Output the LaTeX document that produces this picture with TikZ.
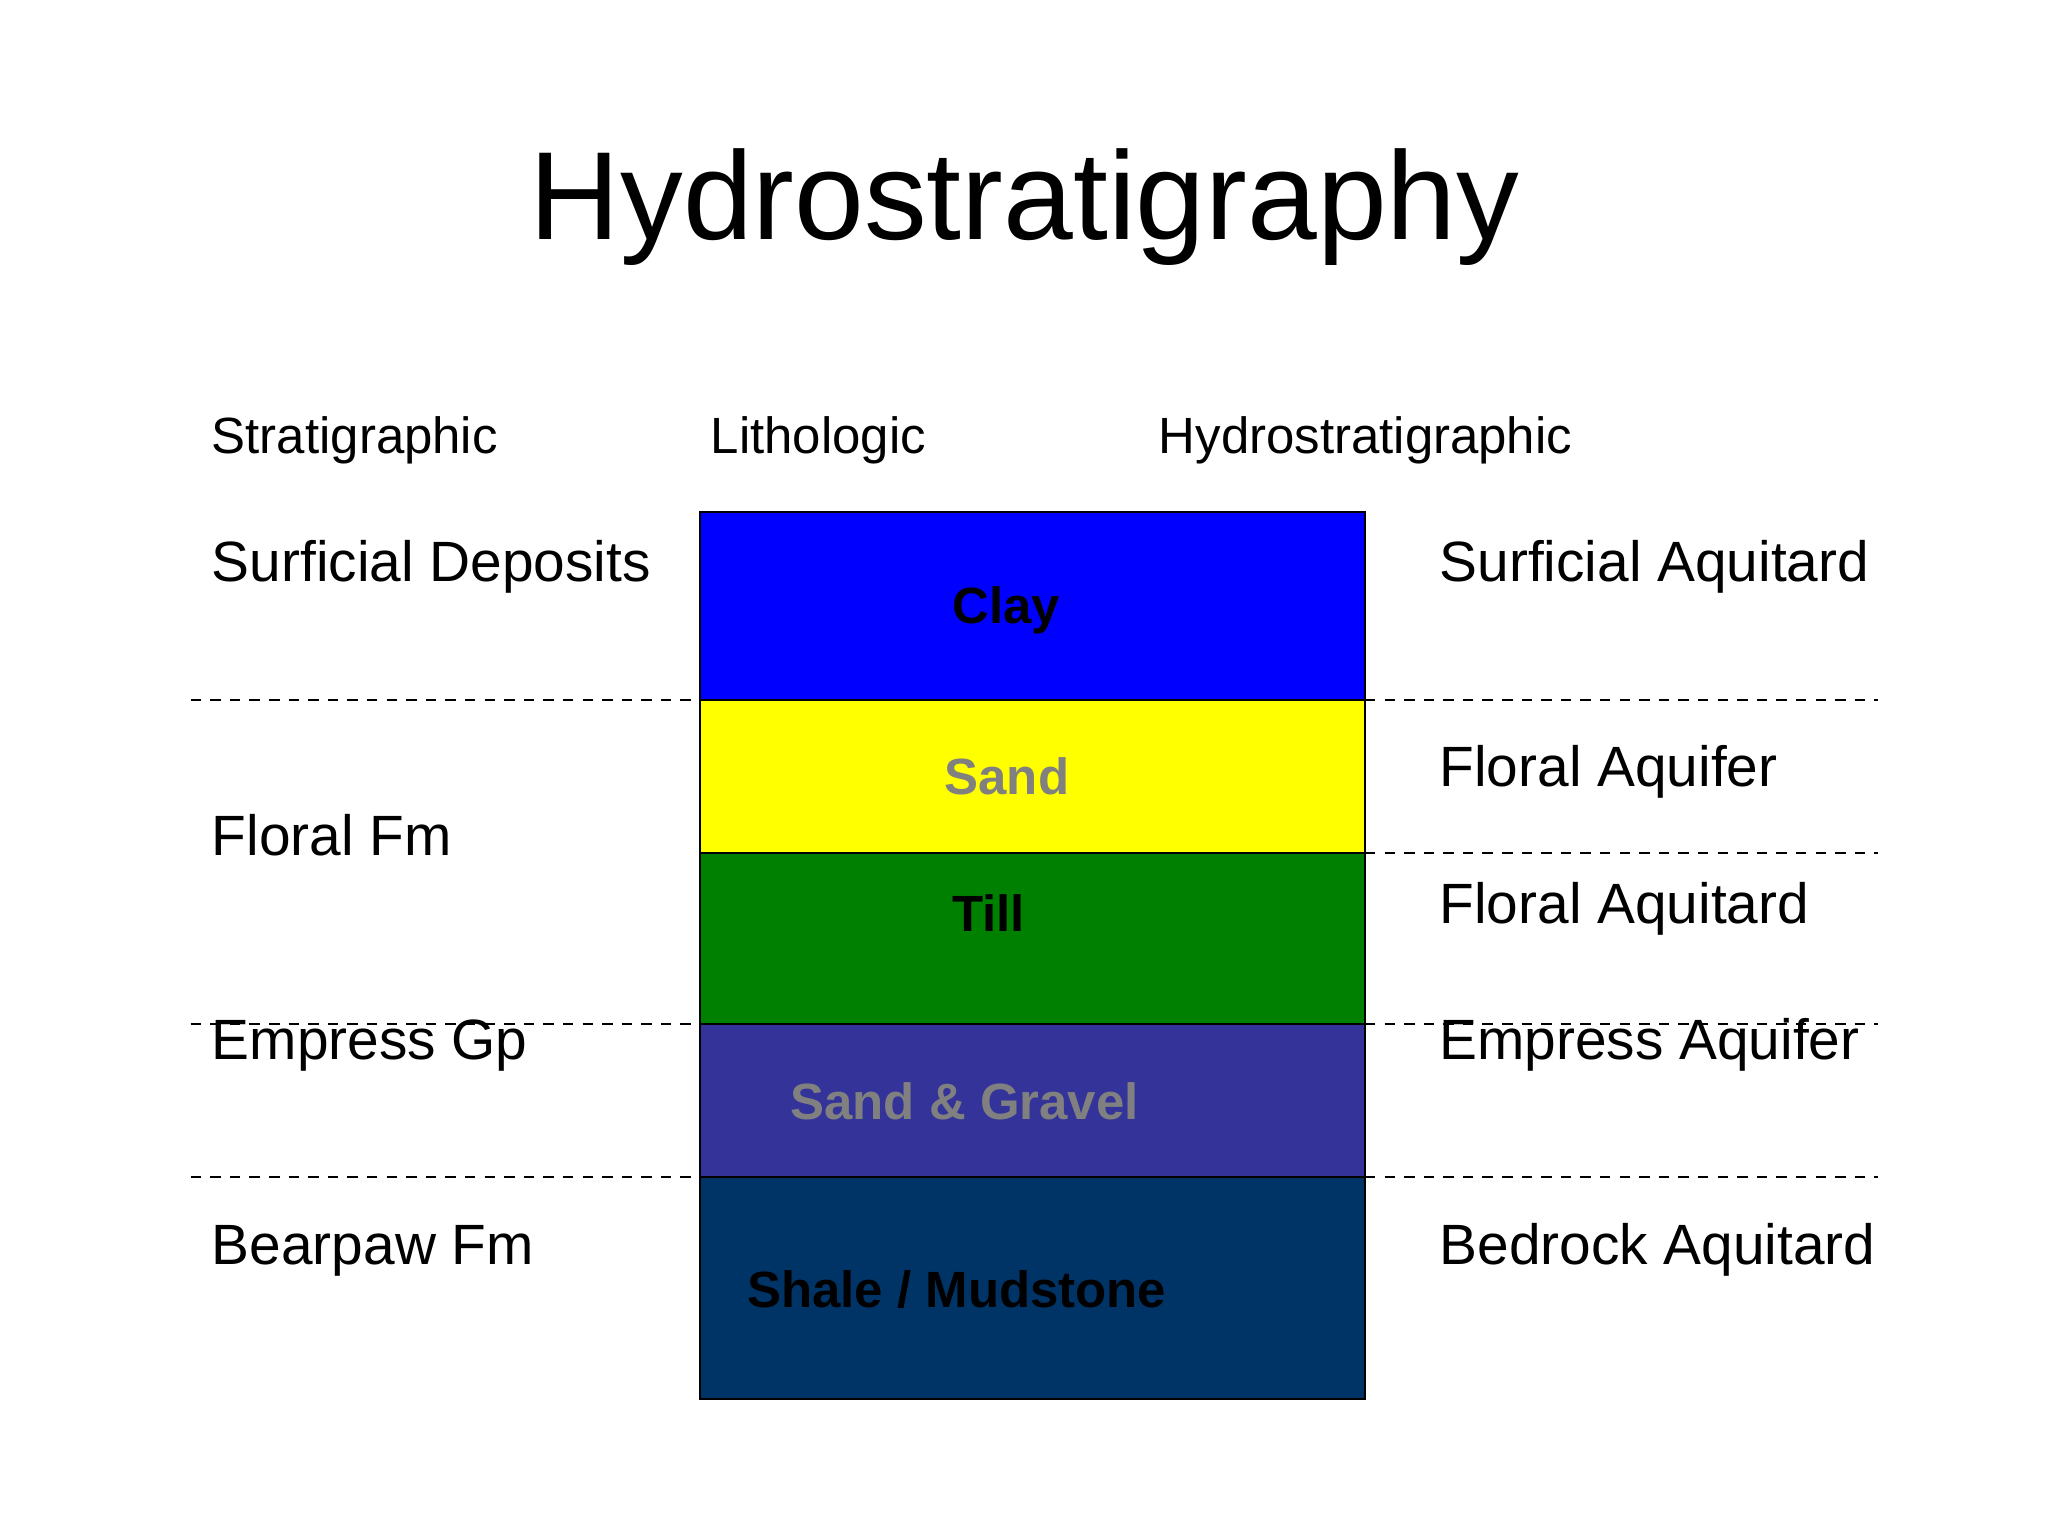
\documentclass[tikz,border=0pt]{standalone}
\usepackage{fontspec}
\setmainfont{Liberation Sans}
\definecolor{clayblue}{HTML}{0000FF}
\definecolor{sandyellow}{HTML}{FFFF00}
\definecolor{tillgreen}{HTML}{008000}
\definecolor{gravelblue}{HTML}{333399}
\definecolor{shaleblue}{HTML}{003366}
\definecolor{lightgray}{HTML}{808080}
\tikzset{
  layer/.style={draw=black, line width=1.8pt, minimum width=509pt, inner sep=0pt, outer sep=0pt, anchor=north west},
  dashline/.style={draw=black, line width=1.7pt, dash pattern=on 8pt off 7pt},
  titletext/.style={inner sep=0pt, anchor=base, font=\fontsize{96}{100}\selectfont},
  headtext/.style={inner sep=0pt, anchor=base west, font=\fontsize{39}{42}\selectfont},
  sidetext/.style={inner sep=0pt, anchor=base west, font=\fontsize{43.5}{46}\selectfont},
  innertext/.style={inner sep=0pt, anchor=base west, font=\fontsize{39}{42}\selectfont\bfseries},
}
\begin{document}
\begin{tikzpicture}[x=1pt,y=-1pt]
\useasboundingbox (0,0) rectangle (1568,1176);
% title
\node[titletext] (title) at (784.5,183) {Hydrostratigraphy};
% headers
\node[headtext] (hstrat) at (162,347) {Stratigraphic};
\node[headtext] (hlith) at (544,347) {Lithologic};
\node[headtext] (hhydro) at (887,347) {Hydrostratigraphic};
% layers
\node[layer, fill=clayblue, minimum height=144pt] (clay) at (536,392) {};
\node[layer, fill=sandyellow, minimum height=117pt] (sand) at (536,536) {};
\node[layer, fill=tillgreen, minimum height=131pt] (till) at (536,653) {};
\node[layer, fill=gravelblue, minimum height=117pt] (gravel) at (536,784) {};
\node[layer, fill=shaleblue, minimum height=170pt] (shale) at (536,901) {};
% layer labels
\node[innertext, text=black] (tclay) at (729,477) {Clay};
\node[innertext, text=lightgray] (tsand) at (723,608) {Sand};
\node[innertext, text=black] (ttill) at (729,713) {Till};
\node[innertext, text=lightgray] (tgravel) at (605,857) {Sand \& Gravel};
\node[innertext, text=black] (tshale) at (572,1001) {Shale / Mudstone};
% dashed divisions
\coordinate (l1) at (146,536);
\coordinate (l3) at (146,784);
\coordinate (l4) at (146,901);
\coordinate (r1) at (1438,536);
\coordinate (r2) at (1438,653);
\coordinate (r3) at (1438,784);
\coordinate (r4) at (1438,901);
\draw[dashline] (l1) -- (clay.south west);
\draw[dashline] (l3) -- (till.south west);
\draw[dashline] (l4) -- (gravel.south west);
\draw[dashline] (clay.south east) -- (r1);
\draw[dashline] (sand.south east) -- (r2);
\draw[dashline] (till.south east) -- (r3);
\draw[dashline] (gravel.south east) -- (r4);
% left labels
\node[sidetext] (sdep) at (162,445) {Surficial Deposits};
\node[sidetext] (floralfm) at (162,655) {Floral Fm};
\node[sidetext] (empgp) at (162,811) {Empress Gp};
\node[sidetext] (bearpaw) at (162,968) {Bearpaw Fm};
% right labels
\node[sidetext] (saq) at (1102,445) {Surficial Aquitard};
\node[sidetext] (faqf) at (1102,602) {Floral Aquifer};
\node[sidetext] (faqt) at (1102,707) {Floral Aquitard};
\node[sidetext] (eaqf) at (1102,811) {Empress Aquifer};
\node[sidetext] (baqt) at (1102,968) {Bedrock Aquitard};
\end{tikzpicture}
\end{document}
